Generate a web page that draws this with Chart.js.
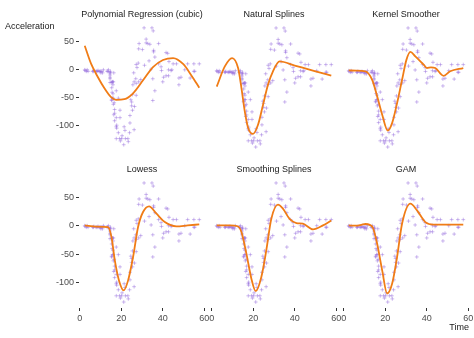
<!DOCTYPE html>
<html>
<head>
<meta charset="utf-8">
<script src="https://cdn.jsdelivr.net/npm/chart.js@4.4.0/dist/chart.umd.min.js"></script>
<style>
  body { margin: 0; background: #fff; width: 474px; height: 338px; overflow: hidden; position: relative; }
  canvas { position: absolute; }
</style>
</head>
<body>
<script>
// motorcycle crash data: time (ms) and head acceleration (g)
var times = [2.4, 2.6, 3.2, 3.6, 4.0, 6.2, 6.6, 6.8, 7.8, 8.2,
  8.8, 8.8, 9.6, 10.0, 10.2, 10.6, 11.0, 11.4, 13.2, 13.6,
  13.8, 14.6, 14.6, 14.6, 14.6, 14.6, 14.6, 14.8, 15.4, 15.4,
  15.4, 15.4, 15.6, 15.6, 15.8, 15.8, 16.0, 16.0, 16.2, 16.2,
  16.2, 16.4, 16.4, 16.6, 16.8, 16.8, 16.8, 17.6, 17.6, 17.6,
  17.6, 17.8, 17.8, 18.6, 18.6, 19.2, 19.4, 19.4, 19.6, 20.2,
  20.4, 21.2, 21.4, 21.8, 22.0, 23.2, 23.4, 24.0, 24.2, 24.2,
  24.6, 25.0, 25.0, 25.4, 25.4, 25.6, 26.0, 26.2, 26.2, 26.4,
  27.0, 27.2, 27.2, 27.2, 27.6, 28.2, 28.4, 28.4, 28.6, 29.4,
  30.2, 31.0, 31.2, 32.0, 32.0, 32.8, 33.4, 33.8, 34.4, 34.8,
  35.2, 35.2, 35.4, 35.6, 35.6, 36.2, 36.2, 38.0, 38.0, 39.2,
  39.4, 40.0, 40.4, 41.6, 41.6, 42.4, 42.8, 42.8, 43.0, 44.0,
  44.4, 45.0, 46.6, 47.8, 47.8, 48.8, 50.6, 52.0, 53.2, 55.0,
  55.0, 55.4, 57.6];
var accel = [0.0, -1.3, -2.7, 0.0, -2.7, -2.7, -2.7, -1.3, -2.7, -2.7,
  -1.3, -2.7, -2.7, -2.7, -5.4, -2.7, -5.4, 0.0, -2.7, -2.7,
  0.0, -13.3, -5.4, -5.4, -9.3, -16.0, -22.8, -2.7, -22.8, -32.1,
  -53.5, -54.9, -40.2, -21.5, -21.5, -50.8, -42.9, -26.8, -21.5, -50.8,
  -61.7, -5.4, -80.4, -59.0, -71.0, -91.1, -77.7, -37.5, -85.6, -123.1,
  -101.9, -99.1, -104.4, -112.5, -50.8, -123.1, -85.6, -72.3, -127.2, -123.1,
  -117.9, -134.0, -101.9, -108.4, -123.1, -123.1, -128.5, -112.5, -95.1, -81.8,
  -53.5, -64.4, -57.6, -72.3, -44.3, -26.8, -5.4, -107.1, -21.5, -65.6,
  -16.0, -45.6, -24.2, 9.5, 4.0, 12.0, -21.5, 37.5, 46.9, -17.4,
  36.2, 75.0, 8.1, 54.9, 48.2, 46.9, 16.0, 45.6, 1.3, 75.0,
  -16.0, -54.9, 69.6, 34.8, 32.1, -37.5, 22.8, 46.9, 10.7, 5.4,
  -1.3, -21.5, -13.3, 30.8, -10.7, 29.4, 0.0, -10.7, 14.7, -1.3,
  0.0, 10.7, 10.7, -26.8, -14.7, -13.3, 0.0, 10.7, -14.7, -2.7,
  10.7, -2.7, 10.7];

var panelTitles = ["Polynomial Regression (cubic)", "Natural Splines", "Kernel Smoother",
  "Lowess", "Smoothing Splines", "GAM"];

// fitted curves
var polyT = [2.4, 5.5, 8.7, 11.9, 15.1, 17.5, 21.5, 25.7, 30.5, 35.3, 40.1, 45, 49.8, 53.8, 57.6];
var polyY = [43, 10.5, -12.8, -33, -49, -53.8, -52.6, -42, -18.8, 4.7, 17.5, 21, 10.5, -10, -32];

var nsT = [2.4, 6.3, 9.8, 12.7, 14.3, 15.9, 17.5, 19.9, 22.3, 24.7, 27.1, 29.5, 32.7, 40, 50, 57.6];
var nsY = [-28, 7.6, 22.2, 4.7, -30, -71, -100, -111, -95, -60, -24.6, -1, 16.3, 9, -1, -8.8];

var ksT = [2.4, 6, 10.4, 13.7, 16.1, 18.5, 21.2, 23.3, 25.7, 28.1, 30.2, 32.1, 34.5, 38.5, 40.1, 42, 44.1, 48.1, 51.3, 57.6];
var ksY = [0.5, 0, -1, -16, -45, -77, -105, -92, -57, -16, 19, 33, 25, 10.5, 4.7, 6, 4.7, -9, -1, 4.7];

var loT = [2.4, 8, 13.6, 15.3, 16.9, 18.9, 21.2, 23.3, 25.7, 28.1, 30.5, 33.4, 37, 41, 46.6, 52, 57.6];
var loY = [0.5, -1.5, -2.4, -20, -61, -96, -113.5, -96, -55, -2.4, 24, 34, 21, 6.3, -1.2, 0.5, 2.3];

var ssT = [2.4, 8.7, 12.5, 14.3, 16.7, 19.1, 21.2, 23.9, 26.3, 28.7, 31.9, 34.3, 37.5, 40.8, 43.9, 48.8, 53.6, 57.6];
var ssY = [0.5, 0.5, -1, -11, -49, -93, -115, -90, -43, 12, 37, 30, 12, 4.6, 3.5, -6.5, 0.5, 9.3];

var gamT = [2.4, 6, 8.5, 10.4, 12.5, 14.1, 16.1, 18.5, 20.9, 23.3, 25.7, 28.1, 32.1, 35.3, 39.3, 43.3, 50, 57.6];
var gamY = [0.5, 0, 1.5, 3, 1.5, -4, -31.6, -78, -119, -102, -55, 3.5, 38.6, 27, 6.3, 1.8, 1.8, 1.8];

var xTicks = [0, 20, 40, 60];
var yTicks = [-100, -50, 0, 50];

var curves = [[polyT, polyY], [nsT, nsY], [ksT, ksY], [loT, loY], [ssT, ssY], [gamT, gamY]];

// panel geometry
var plotLefts = [79, 211, 343];
var plotTops = [22, 177];
var plotW = 126, plotH = 131;
var fontFam = '"Liberation Sans", Arial, sans-serif';

var panelText = {
  id: 'panelText',
  afterDraw: function(chart, args, opts) {
    var ctx = chart.ctx, a = chart.chartArea;
    ctx.save();
    ctx.font = '9px ' + fontFam;
    ctx.fillStyle = '#1a1a1a';
    ctx.textBaseline = 'middle';
    ctx.textAlign = 'center';
    ctx.fillText(opts.title, (a.left + a.right) / 2, a.top - 7.5);
    if (opts.yTitle) {
      ctx.textAlign = 'left';
      ctx.fillText(opts.yTitle, 5, a.top + 5);
    }
    if (opts.xTitle) {
      ctx.textAlign = 'right';
      ctx.fillText(opts.xTitle, a.right, a.bottom + 20);
    }
    ctx.restore();
  }
};

var points = times.map(function(t, i) { return {x: t, y: accel[i]}; });

function makePanel(p) {
  var r = Math.floor(p / 3), c = p % 3;
  var padL = c == 0 ? 0 : 10, padR = 12, padT = 22, padB = r == 0 ? 5 : 0;
  var yW = c == 0 ? plotLefts[0] : 0;
  var xH = r == 1 ? 30 : 0;
  var cv = document.createElement('canvas');
  cv.width = padL + yW + plotW + padR;
  cv.height = padT + plotH + xH + padB;
  cv.style.left = (plotLefts[c] - padL - yW) + 'px';
  cv.style.top = (plotTops[r] - padT) + 'px';
  document.body.appendChild(cv);

  var ct = curves[p][0], cy = curves[p][1];
  var curve = ct.map(function(t, i) { return {x: t, y: cy[i]}; });

  new Chart(cv, {
    type: 'scatter',
    data: {
      datasets: [
        {
          type: 'line',
          data: curve,
          borderColor: '#f07c16',
          borderWidth: 1.8,
          pointRadius: 0,
          cubicInterpolationMode: 'monotone',
          fill: false,
          order: 0
        },
        {
          data: points,
          pointStyle: 'cross',
          pointRadius: 1.9,
          borderWidth: 1,
          borderColor: 'rgba(147,105,220,0.45)',
          backgroundColor: 'rgba(147,105,220,0.45)',
          order: 1
        }
      ]
    },
    options: {
      responsive: false,
      animation: false,
      events: [],
      layout: { padding: { left: padL, right: padR, top: padT, bottom: padB } },
      plugins: {
        legend: { display: false },
        tooltip: { enabled: false },
        panelText: {
          title: panelTitles[p],
          yTitle: p == 0 ? 'Acceleration' : null,
          xTitle: p == 5 ? 'Time' : null
        }
      },
      scales: {
        x: {
          type: 'linear',
          min: -0.36, max: 60.36,
          display: r == 1,
          afterBuildTicks: function(s) { s.ticks = xTicks.map(function(v) { return {value: v}; }); },
          afterFit: function(s) { s.height = xH; },
          border: { display: false },
          grid: { drawOnChartArea: false, drawTicks: true, tickLength: 3, color: '#333' },
          ticks: { autoSkip: false, maxRotation: 0, padding: 2, color: '#4d4d4d', font: { family: fontFam, size: 9 } }
        },
        y: {
          type: 'linear',
          min: -144.5, max: 85.5,
          display: c == 0,
          afterBuildTicks: function(s) { s.ticks = yTicks.map(function(v) { return {value: v}; }); },
          afterFit: function(s) { s.width = yW; },
          border: { display: false },
          grid: { drawOnChartArea: false, drawTicks: true, tickLength: 3, color: '#333' },
          ticks: { autoSkip: false, padding: 2, color: '#4d4d4d', font: { family: fontFam, size: 9 } }
        }
      }
    },
    plugins: [panelText]
  });
}

for (var p = 0; p < 6; p++) makePanel(p);
</script>
</body>
</html>
